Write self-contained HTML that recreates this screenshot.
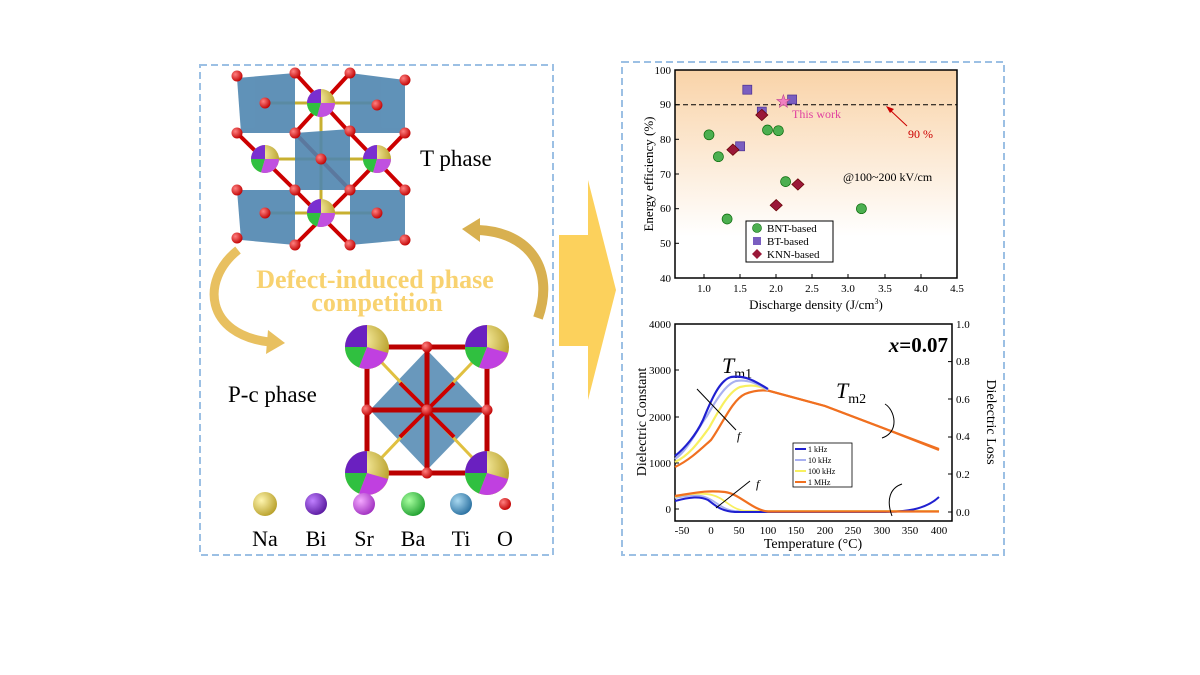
<!DOCTYPE html>
<html><head><meta charset="utf-8"><style>
html,body{margin:0;padding:0;background:#fff;}
svg{display:block;font-family:"Liberation Serif",serif;}
</style></head><body>
<svg width="1200" height="675" viewBox="0 0 1200 675" xmlns="http://www.w3.org/2000/svg">
<defs>
<linearGradient id="bg" x1="0" y1="0" x2="0" y2="1">
<stop offset="0" stop-color="#f9d3a8"/><stop offset="0.8" stop-color="#fff" />
</linearGradient>
<radialGradient id="na" cx="0.35" cy="0.35" r="0.7"><stop offset="0" stop-color="#fff6b0"/><stop offset="1" stop-color="#b8a02a"/></radialGradient>
<radialGradient id="bi" cx="0.35" cy="0.35" r="0.7"><stop offset="0" stop-color="#c080ff"/><stop offset="1" stop-color="#5a1aa0"/></radialGradient>
<radialGradient id="sr" cx="0.35" cy="0.35" r="0.7"><stop offset="0" stop-color="#f4a8ff"/><stop offset="1" stop-color="#a030c0"/></radialGradient>
<radialGradient id="ba" cx="0.35" cy="0.35" r="0.7"><stop offset="0" stop-color="#a8ffa0"/><stop offset="1" stop-color="#20a030"/></radialGradient>
<radialGradient id="ti" cx="0.35" cy="0.35" r="0.7"><stop offset="0" stop-color="#a8d8f0"/><stop offset="1" stop-color="#2a70a0"/></radialGradient>
<radialGradient id="o" cx="0.35" cy="0.35" r="0.7"><stop offset="0" stop-color="#ff8080"/><stop offset="1" stop-color="#c00000"/></radialGradient>
<g id="ox"><circle r="5.5" fill="url(#o)"/></g>
<g id="asite"><circle r="14" fill="url(#na)"/><path d="M0,0 L-14,0 A14,14 0 0 1 0,-14 Z" fill="#7a2fd0"/><path d="M0,0 L-14,0 A14,14 0 0 0 -4,13.4 Z" fill="#30c040"/><path d="M0,0 L-4,13.4 A14,14 0 0 0 14,0 Z" fill="#c050e0"/></g>
<g id="bsite"><circle r="22" fill="url(#na)"/><path d="M0,0 L-22,0 A22,22 0 0 1 0,-22 Z" fill="#6a20c0"/><path d="M0,0 L-22,0 A22,22 0 0 0 -8,20.5 Z" fill="#30c040"/><path d="M0,0 L-8,20.5 A22,22 0 0 0 21,6 Z" fill="#c040e0"/></g>
</defs>

<!-- dashed boxes -->
<rect x="200" y="65" width="353" height="490" fill="none" stroke="#9cc0e4" stroke-width="2" stroke-dasharray="7,4"/>
<rect x="622" y="62" width="382" height="493" fill="none" stroke="#9cc0e4" stroke-width="2" stroke-dasharray="7,4"/>

<!-- big arrow -->
<polygon points="559,235 588,235 588,180 616,290 588,400 588,346 559,346" fill="#fcd15c"/>

<!-- T phase -->
<g stroke="#c00" stroke-width="4">
<line x1="295" y1="73" x2="350" y2="133"/><line x1="350" y1="73" x2="295" y2="133"/>
<line x1="237" y1="133" x2="295" y2="190"/><line x1="295" y1="133" x2="350" y2="190"/>
<line x1="350" y1="133" x2="405" y2="190"/><line x1="295" y1="190" x2="350" y2="245"/>
<line x1="350" y1="190" x2="295" y2="245"/><line x1="405" y1="133" x2="350" y2="190"/>
</g>
<g stroke="#c8b030" stroke-width="3">
<line x1="265" y1="159" x2="377" y2="159"/><line x1="321" y1="103" x2="321" y2="213"/>
<line x1="265" y1="103" x2="377" y2="103"/><line x1="265" y1="213" x2="377" y2="213"/>
</g>
<g fill="#4f86b0" opacity="0.9">
<polygon points="237,78 295,73 295,133 241,133"/>
<polygon points="350,73 405,80 405,133 350,133"/>
<polygon points="237,190 295,190 295,245 241,240"/>
<polygon points="350,190 405,190 405,240 350,245"/>
<polygon points="295,133 350,129 350,190 295,190"/>
</g>
<use href="#asite" x="321" y="103"/><use href="#asite" x="265" y="159"/><use href="#asite" x="377" y="159"/><use href="#asite" x="321" y="213"/>
<g>
<use href="#ox" x="237" y="76"/><use href="#ox" x="295" y="73"/><use href="#ox" x="350" y="73"/><use href="#ox" x="405" y="80"/>
<use href="#ox" x="265" y="103"/><use href="#ox" x="377" y="105"/>
<use href="#ox" x="237" y="133"/><use href="#ox" x="295" y="133"/><use href="#ox" x="350" y="131"/><use href="#ox" x="405" y="133"/>
<use href="#ox" x="321" y="159"/>
<use href="#ox" x="237" y="190"/><use href="#ox" x="295" y="190"/><use href="#ox" x="350" y="190"/><use href="#ox" x="405" y="190"/>
<use href="#ox" x="265" y="213"/><use href="#ox" x="377" y="213"/>
<use href="#ox" x="237" y="238"/><use href="#ox" x="295" y="245"/><use href="#ox" x="350" y="245"/><use href="#ox" x="405" y="240"/>
</g>
<text x="420" y="166" font-size="23">T phase</text>

<!-- curved arrows -->
<path d="M238,250 C200,280 205,335 270,342" fill="none" stroke="#e8c060" stroke-width="9"/>
<polygon points="268,330 285,343 266,354" fill="#e8c060"/>
<path d="M538,318 C555,270 530,232 478,230" fill="none" stroke="#d8b050" stroke-width="10"/>
<polygon points="480,218 462,229 480,242" fill="#d8b050"/>

<text x="375" y="288" font-size="26" font-weight="bold" fill="#f8d270" text-anchor="middle">Defect-induced phase</text>
<text x="377" y="311" font-size="26" font-weight="bold" fill="#f8d270" text-anchor="middle">competition</text>

<!-- P-c phase -->
<polygon points="427,350 485,410 427,470 370,410" fill="#4f86b0" opacity="0.85"/>
<g stroke="#b00" stroke-width="5">
<line x1="367" y1="347" x2="487" y2="347"/><line x1="367" y1="473" x2="487" y2="473"/>
<line x1="367" y1="347" x2="367" y2="473"/><line x1="487" y1="347" x2="487" y2="473"/>
<line x1="427" y1="347" x2="427" y2="473"/><line x1="367" y1="410" x2="487" y2="410"/>
</g>
<g stroke="#e0c040" stroke-width="3"><line x1="367" y1="347" x2="487" y2="473"/><line x1="487" y1="347" x2="367" y2="473"/></g>
<g stroke="#c00" stroke-width="4"><line x1="400" y1="383" x2="454" y2="437"/><line x1="454" y1="383" x2="400" y2="437"/></g>
<use href="#bsite" x="367" y="347"/><use href="#bsite" x="487" y="347"/><use href="#bsite" x="367" y="473"/><use href="#bsite" x="487" y="473"/>
<use href="#ox" x="427" y="347" transform="translate(0,0)"/><use href="#ox" x="427" y="473"/><use href="#ox" x="367" y="410"/><use href="#ox" x="487" y="410"/><use href="#ox" x="427" y="410"/>
<text x="228" y="402" font-size="23">P-c phase</text>

<!-- element legend -->
<circle cx="265" cy="504" r="12" fill="url(#na)"/>
<circle cx="316" cy="504" r="11" fill="url(#bi)"/>
<circle cx="364" cy="504" r="11" fill="url(#sr)"/>
<circle cx="413" cy="504" r="12" fill="url(#ba)"/>
<circle cx="461" cy="504" r="11" fill="url(#ti)"/>
<circle cx="505" cy="504" r="6" fill="url(#o)"/>
<g font-size="22" text-anchor="middle">
<text x="265" y="546">Na</text><text x="316" y="546">Bi</text><text x="364" y="546">Sr</text><text x="413" y="546">Ba</text><text x="461" y="546">Ti</text><text x="505" y="546">O</text>
</g>

<!-- TOP CHART -->
<rect x="675" y="70" width="282" height="208" fill="url(#bg)"/>
<rect x="675" y="70" width="282" height="208" fill="none" stroke="#000" stroke-width="1.5"/>
<g stroke="#000" stroke-width="1">
<line x1="675" y1="104.7" x2="679" y2="104.7"/><line x1="675" y1="139.3" x2="679" y2="139.3"/><line x1="675" y1="174" x2="679" y2="174"/><line x1="675" y1="208.7" x2="679" y2="208.7"/><line x1="675" y1="243.3" x2="679" y2="243.3"/>
<line x1="704" y1="278" x2="704" y2="274"/><line x1="740" y1="278" x2="740" y2="274"/><line x1="776" y1="278" x2="776" y2="274"/><line x1="812" y1="278" x2="812" y2="274"/><line x1="848" y1="278" x2="848" y2="274"/><line x1="885" y1="278" x2="885" y2="274"/><line x1="921" y1="278" x2="921" y2="274"/>
</g>
<g font-size="11" text-anchor="end">
<text x="671" y="74">100</text><text x="671" y="108">90</text><text x="671" y="143">80</text><text x="671" y="178">70</text><text x="671" y="212">60</text><text x="671" y="247">50</text><text x="671" y="282">40</text>
</g>
<g font-size="11" text-anchor="middle">
<text x="704" y="292">1.0</text><text x="740" y="292">1.5</text><text x="776" y="292">2.0</text><text x="812" y="292">2.5</text><text x="848" y="292">3.0</text><text x="885" y="292">3.5</text><text x="921" y="292">4.0</text><text x="957" y="292">4.5</text>
</g>
<text x="816" y="309" font-size="13" text-anchor="middle">Discharge density (J/cm<tspan font-size="8" dy="-5">3</tspan><tspan dy="5">)</tspan></text>
<text transform="translate(653,174) rotate(-90)" font-size="13" text-anchor="middle">Energy efficiency (%)</text>
<line x1="675" y1="104.7" x2="957" y2="104.7" stroke="#000" stroke-dasharray="5,3"/>
<text x="792" y="118" font-size="12" fill="#e040a0">This work</text>
<text x="908" y="138" font-size="12" fill="#c00">90 %</text>
<line x1="907" y1="126" x2="890" y2="110" stroke="#c00"/><polygon points="886,106 894,109 890,113" fill="#c00"/>
<text x="843" y="181" font-size="12">@100~200 kV/cm</text>
<g stroke="#0a6a0a" stroke-width="0.7">
<g fill="#4caf50">
<circle cx="709" cy="134.8" r="5"/><circle cx="718.4" cy="156.7" r="5"/><circle cx="727.1" cy="219" r="5"/><circle cx="767.5" cy="130" r="5"/><circle cx="778.4" cy="130.7" r="5"/><circle cx="785.6" cy="181.6" r="5"/><circle cx="861.4" cy="208.7" r="5"/>
</g></g>
<g fill="#7a5ec0" stroke="#4a2e90" stroke-width="0.7">
<rect x="742.8" y="85.2" width="9" height="9"/><rect x="735.6" y="141.8" width="9" height="9"/><rect x="757.3" y="107.1" width="9" height="9"/><rect x="787.6" y="95" width="9" height="9"/>
</g>
<g fill="#9a1838" stroke="#600" stroke-width="0.7">
<polygon points="732.9,144 739,149.7 732.9,155.4 726.8,149.7"/><polygon points="761.8,109.3 767.9,115 761.8,120.7 755.7,115"/><polygon points="776.2,199.5 782.3,205.2 776.2,210.9 770.1,205.2"/><polygon points="797.9,178.7 804,184.4 797.9,190.1 791.8,184.4"/>
</g>
<polygon points="783.4,94.7 785,99.3 790,99.5 786,102.5 787.4,107.3 783.4,104.5 779.4,107.3 780.8,102.5 776.8,99.5 781.8,99.3" fill="#f080c0" stroke="#c04090" stroke-width="0.6"/>
<rect x="746" y="221" width="87" height="41" fill="#fff" stroke="#000" stroke-width="1"/>
<circle cx="757" cy="228" r="4.5" fill="#4caf50" stroke="#0a6a0a" stroke-width="0.6"/>
<rect x="753" y="237" width="8" height="8" fill="#7a5ec0"/>
<polygon points="757,249 762,254 757,259 752,254" fill="#9a1838"/>
<g font-size="11"><text x="767" y="232">BNT-based</text><text x="767" y="245">BT-based</text><text x="767" y="258">KNN-based</text></g>

<!-- BOTTOM CHART -->
<rect x="675" y="324" width="277" height="197" fill="none" stroke="#000" stroke-width="1.5"/>
<g font-size="11" text-anchor="end">
<text x="671" y="328">4000</text><text x="671" y="374">3000</text><text x="671" y="421">2000</text><text x="671" y="467">1000</text><text x="671" y="513">0</text>
</g>
<g font-size="11">
<text x="956" y="328">1.0</text><text x="956" y="365">0.8</text><text x="956" y="403">0.6</text><text x="956" y="440">0.4</text><text x="956" y="478">0.2</text><text x="956" y="516">0.0</text>
</g>
<g stroke="#000" stroke-width="1">
<line x1="675" y1="370" x2="679" y2="370"/><line x1="675" y1="417" x2="679" y2="417"/><line x1="675" y1="463" x2="679" y2="463"/><line x1="675" y1="509" x2="679" y2="509"/>
<line x1="952" y1="361.6" x2="948" y2="361.6"/><line x1="952" y1="399" x2="948" y2="399"/><line x1="952" y1="437" x2="948" y2="437"/><line x1="952" y1="474" x2="948" y2="474"/><line x1="952" y1="512" x2="948" y2="512"/>
</g>
<g font-size="11" text-anchor="middle">
<text x="682" y="534">-50</text><text x="711" y="534">0</text><text x="739" y="534">50</text><text x="768" y="534">100</text><text x="796" y="534">150</text><text x="825" y="534">200</text><text x="853" y="534">250</text><text x="882" y="534">300</text><text x="910" y="534">350</text><text x="939" y="534">400</text>
</g>
<text x="813" y="548" font-size="14" text-anchor="middle">Temperature (°C)</text>
<text transform="translate(646,422) rotate(-90)" font-size="14" text-anchor="middle">Dielectric Constant</text>
<text transform="translate(987,422) rotate(90)" font-size="14" text-anchor="middle">Dielectric Loss</text>
<text x="948" y="352" font-size="21" font-weight="bold" text-anchor="end"><tspan font-style="italic">x</tspan>=0.07</text>
<text x="722" y="373" font-size="22" font-style="italic">T<tspan font-size="14" font-style="normal" dy="5">m1</tspan></text>
<text x="836" y="398" font-size="22" font-style="italic">T<tspan font-size="14" font-style="normal" dy="5">m2</tspan></text>
<g fill="none" stroke-width="2.2">
<path d="M675,467 C690,460 702,448 711,440 C722,425 732,400 745,394 C755,390 762,390 768,390.6 L825,406 L883,428 L939,450" stroke="#f07020"/>
<path d="M675,462 C690,455 700,440 709,428 C718,412 728,392 740,387 C752,384 760,386 768,390" stroke="#f8f060"/>
<path d="M675,459 C688,450 698,428 707,416 C716,400 726,384 736,381 C748,379 758,384 768,390" stroke="#a8b0f0"/>
<path d="M675,456 C685,448 696,435 703,420 C712,398 720,380 731,377 C745,375 755,381 768,389" stroke="#2020d0"/>
<path d="M768,390.6 L825,406 L883,428 L939,449" stroke="#f07020"/>
<path d="M675,498 C690,495 700,495 705,497 C715,500 722,510 735,511 L939,511" stroke="#a8b0f0" stroke-width="1.8"/>
<path d="M675,497 C690,493 705,493 712,495 C725,498 730,509 745,511 L939,511" stroke="#f8f060" stroke-width="1.8"/>
<path d="M675,501 C690,497 700,496 708,500 C715,505 720,511 735,512 L880,512 C905,512 925,510 939,497" stroke="#2020d0" stroke-width="2"/>
<path d="M675,496 C695,493 705,490 725,492 C740,494 752,510 768,511.5 L939,511.5" stroke="#f07020" stroke-width="2.2"/>
</g>
<g stroke="#000" stroke-width="1" fill="none">
<line x1="697" y1="389" x2="736" y2="430"/>
<line x1="716" y1="508" x2="750" y2="481"/>
<path d="M882,438 C900,432 895,410 885,404"/>
<path d="M892,516 C886,500 890,488 902,484"/>
</g>
<text x="737" y="440" font-size="12" font-style="italic">f</text>
<text x="756" y="488" font-size="12" font-style="italic">f</text>
<rect x="793" y="443" width="59" height="44" fill="#fff" stroke="#000" stroke-width="0.8"/>
<line x1="795" y1="449" x2="806" y2="449" stroke="#2020d0" stroke-width="2"/>
<line x1="795" y1="460" x2="806" y2="460" stroke="#a8b0f0" stroke-width="2"/>
<line x1="795" y1="471" x2="806" y2="471" stroke="#f8f060" stroke-width="2"/>
<line x1="795" y1="482" x2="806" y2="482" stroke="#f07020" stroke-width="2"/>
<g font-size="8"><text x="808" y="452">1 kHz</text><text x="808" y="463">10 kHz</text><text x="808" y="474">100 kHz</text><text x="808" y="485">1 MHz</text></g>
</svg>
</body></html>
